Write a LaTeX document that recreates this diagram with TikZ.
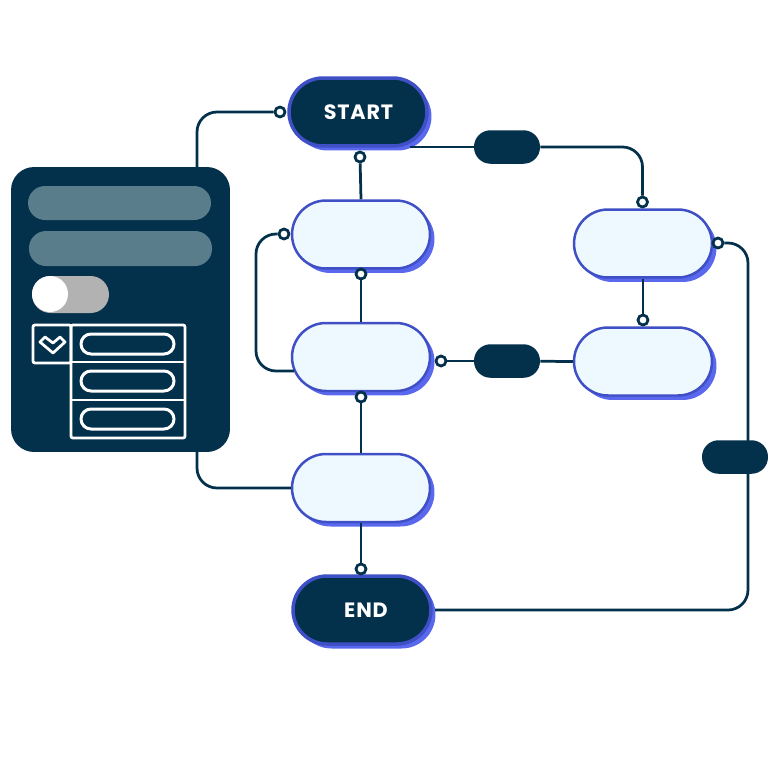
\documentclass[tikz,border=0pt]{standalone}
\usepackage{fontspec}
\setsansfont{Poppins}
\newfontfamily\labelfont[LetterSpace=4.0]{Poppins}
\usetikzlibrary{shadows}
\definecolor{navy}{HTML}{03304B}
\definecolor{edgeblue}{HTML}{3F4FC6}
\definecolor{shadeblue}{HTML}{5A68EE}
\definecolor{paleblue}{HTML}{EEF8FF}
\definecolor{barcol}{HTML}{5A7D8C}
\tikzset{
  flowbox/.style={draw=edgeblue,line width=0.05cm,fill=paleblue,minimum width=2.76cm,minimum height=1.36cm,
    rounded corners=0.68cm,inner sep=0pt,
    copy shadow={shadow xshift=0.09cm,shadow yshift=-0.09cm,fill=shadeblue,draw=none}},
  termbox/.style={flowbox,fill=navy,line width=0.07cm,text=white,font=\labelfont\bfseries\fontsize{11.8}{12}\selectfont},
  port/.style={circle,draw=navy,line width=0.055cm,fill=white,inner sep=0pt,minimum size=0.2cm},
  wire/.style={draw=navy,line width=0.055cm,rounded corners=0.4cm},
  tag/.style={fill=navy,minimum width=1.32cm,minimum height=0.67cm,rounded corners=0.33cm,inner sep=0pt},
  bar/.style={fill=barcol,rounded corners=0.34cm},
  cell/.style={draw=white,line width=0.055cm,rounded corners=0.04cm},
  slot/.style={draw=white,line width=0.06cm,rounded corners=0.2cm},
}
\begin{document}
\begin{tikzpicture}[x=0.02cm,y=-0.02cm]
  \useasboundingbox (0,0) rectangle (768,768);
  % side panel
  \node [fill=navy,minimum width=4.38cm,minimum height=5.7cm,rounded corners=0.46cm,inner sep=0pt] (panel) at (120.5,309.5) {};
  \fill [bar] (28,186) rectangle (211,220);
  \fill [bar] (29,231) rectangle (212,266);
  \fill [black!30,rounded corners=0.37cm] (32,276) rectangle (109,313);
  \fill [white] (50,294) circle (18);
  \draw [cell] (33,325) rectangle (71,363);
  \draw [cell] (71,325) rectangle (185,438);
  \draw [white,line width=0.055cm] (71,362) -- (185,362) (71,400) -- (185,400);
  \draw [slot] (81,334) rectangle (174,354);
  \draw [slot] (81,371) rectangle (174,391);
  \draw [slot] (81,409) rectangle (174,429);
  \draw [white,line width=0.055cm,line join=round] (40,342) -- (45,337) -- (53,343) -- (60,337) -- (65,342) -- (53,353) -- cycle;
  % boxes
  \node [termbox] (startbox) at (358,112) {\raisebox{-0.02cm}{\hspace{0.02cm}START}};
  \node [flowbox] (boxa) at (361,234.5) {};
  \node [flowbox] (boxb) at (361,357) {};
  \node [flowbox] (boxc) at (361,488) {};
  \node [termbox] (endbox) at (362,610) {\hspace{0.16cm}END};
  \node [flowbox] (boxd) at (643,243.5) {};
  \node [flowbox] (boxe) at (643,361.5) {};
  % ports
  \node [port] (startport) at (280,112) {};
  \node [port] (topport) at (360,157) {};
  \node [port] (aleft) at (284,234) {};
  \node [port] (abottom) at (361,274) {};
  \node [port] (bright) at (441,361) {};
  \node [port] (bbottom) at (361,397) {};
  \node [port] (endport) at (361,569) {};
  \node [port] (dtop) at (642.5,202) {};
  \node [port] (dright) at (718,243) {};
  \node [port] (etop) at (643,320) {};
  % tags on the lines
  \node [tag] (tagtop) at (507,147) {};
  \node [tag] (tagmid) at (507,361) {};
  % free ends
  \coordinate (panelup) at (197,167);
  \coordinate (paneldown) at (197,452);
  \coordinate (startout) at (410,147);
  \coordinate (topbend) at (642.5,147);
  \coordinate (loopup) at (256,234);
  \coordinate (loopdown) at (256,371);
  \coordinate (loopend) at (294,371);
  \coordinate (farup) at (748,243);
  \coordinate (fardown) at (748,610);
  \coordinate (endout) at (435,610);
  % connectors
  \draw [wire] (panelup) |- (startport);
  \draw [wire] (paneldown) |- (boxc.west);
  \draw [wire] (startout) -- (tagtop);
  \draw [wire] (tagtop) -- (topbend) -- (dtop);
  \draw [wire] (topport) -- (boxa.north);
  \draw [wire] (aleft) -- (loopup) -- (loopdown) -- (loopend);
  \draw [wire] (boxa.south) -- (abottom);
  \draw [wire] (abottom) -- (boxb.north);
  \draw [wire] (bright) -- (tagmid);
  \draw [wire] (tagmid) -- (boxe.west);
  \draw [wire] (bbottom) -- (boxc.north);
  \draw [wire] (boxc.south) -- (endport);
  \draw [wire] (boxd.south) -- (etop);
  \draw [wire] (dright) -- (farup) -- (fardown) -- (endout);
  \node [tag] (tagright) at (735,457) {};
\end{tikzpicture}
\end{document}
